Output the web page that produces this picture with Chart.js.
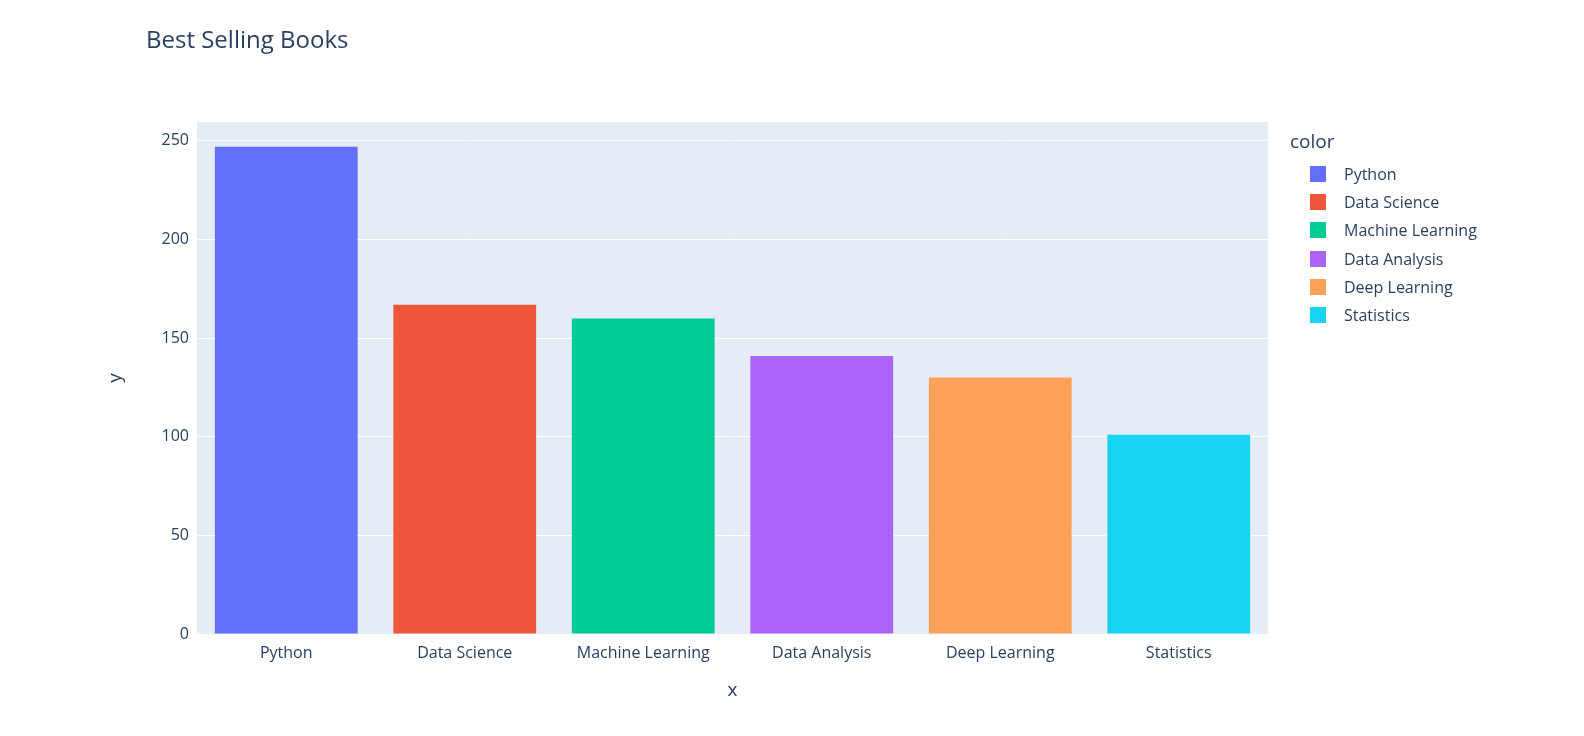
<!DOCTYPE html>
<html>
<head>
<meta charset="utf-8">
<script src="https://cdn.jsdelivr.net/npm/chart.js@4/dist/chart.umd.min.js"></script>
<style>
  body { margin: 0; background: #fff; font-family: "Open Sans", sans-serif; color: #2a3f5f; }
  #wrap { position: relative; width: 1584px; height: 736px; }
  #title { position: absolute; left: 146px; top: 22px; font-size: 24px; }
  #legend { position: absolute; left: 1290px; top: 128px; font-size: 16px; }
  #legend .head { font-size: 19px; margin-bottom: 6px; }
  #legend .item { display: flex; align-items: center; height: 28.2px; }
  #legend .sw { width: 16px; height: 16px; margin: 0 18px 0 20px; }
</style>
</head>
<body>
<div id="wrap">
  <canvas id="chart" width="1584" height="736"></canvas>
  <div id="title">Best Selling Books</div>
  <div id="legend"><div class="head">color</div></div>
</div>
<script>
const categories = ['Python', 'Data Science', 'Machine Learning', 'Data Analysis', 'Deep Learning', 'Statistics'];
const sales = [247, 167, 160, 141, 130, 101];
const colors = ['#636efa', '#EF553B', '#00cc96', '#ab63fa', '#FFA15A', '#19d3f3'];
const yTicks = [0, 50, 100, 150, 200, 250];

// legend in plotly style
const legend = document.getElementById('legend');
categories.forEach((c, i) => {
    const item = document.createElement('div');
    item.className = 'item';
    item.innerHTML = `<span class="sw" style="background:${colors[i]}"></span><span>${c}</span>`;
    legend.appendChild(item);
});

const plotBg = {
    id: 'plotBg',
    beforeDraw(chart) {
        const { ctx, chartArea: a } = chart;
        ctx.save();
        ctx.fillStyle = '#E5ECF6';
        ctx.fillRect(a.left, a.top, a.right - a.left, a.bottom - a.top);
        ctx.restore();
    }
};

const tickFont = { family: 'Open Sans', size: 16 };

new Chart(document.getElementById('chart'), {
    type: 'bar',
    data: {
        labels: categories,
        datasets: [{ data: sales, backgroundColor: colors, barPercentage: 0.8, categoryPercentage: 1 }]
    },
    options: {
        responsive: false,
        animation: false,
        layout: { padding: { left: 100, right: 316, top: 122, bottom: 30 } },
        plugins: { legend: { display: false }, tooltip: { enabled: false } },
        scales: {
            x: {
                grid: { display: false },
                border: { display: false },
                ticks: { color: '#2a3f5f', font: tickFont, maxRotation: 0, padding: 2 },
                title: { display: true, text: 'x', color: '#2a3f5f', font: { family: 'Open Sans', size: 19 } },
                afterFit(s) { s.height = 72; }
            },
            y: {
                min: 0, max: 259.6,
                afterBuildTicks(s) { s.ticks = yTicks.map(v => ({ value: v })); },
                grid: { color: '#ffffff', lineWidth: 1, drawTicks: false },
                border: { display: false },
                ticks: { color: '#2a3f5f', font: tickFont, padding: 8 },
                title: { display: true, text: 'y', color: '#2a3f5f', font: { family: 'Open Sans', size: 19 } },
                afterFit(s) { s.width = 97; }
            }
        }
    },
    plugins: [plotBg]
});
</script>
</body>
</html>
